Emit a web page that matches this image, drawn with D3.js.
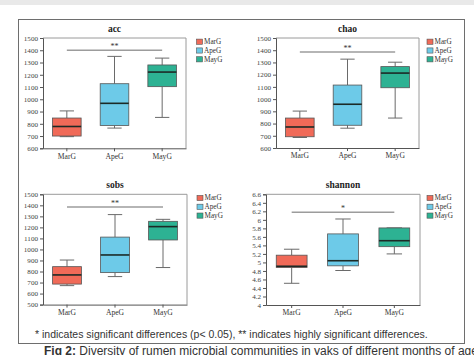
<!DOCTYPE html>
<html><head><meta charset="utf-8">
<script src="https://cdn.jsdelivr.net/npm/d3@7"></script>
<style>html,body{margin:0;padding:0;background:#fff;}svg{display:block;}</style>
</head><body>
<script>
// ---- data ----
const categories = ["MarG", "ApeG", "MayG"];
const colors = ["#F06A58", "#6DCAE8", "#2DB293"];
// [min, q1, median, q3, max]
const accStats = [[695, 700, 778, 847, 905], [765, 786, 967, 1127, 1350], [852, 1103, 1222, 1280, 1336]];
const chaoStats = [[686, 692, 772, 845, 902], [762, 786, 958, 1115, 1327], [845, 1093, 1213, 1266, 1302]];
const sobsStats = [[672, 686, 769, 844, 904], [754, 790, 950, 1112, 1316], [836, 1086, 1207, 1255, 1273]];
const shannonStats = [[4.51, 4.88, 4.91, 5.17, 5.31], [4.81, 4.92, 5.04, 5.67, 6.02], [5.2, 5.37, 5.51, 5.81, 5.81]];
const accTicks = [600, 700, 800, 900, 1000, 1100, 1200, 1300, 1400, 1500];
const chaoTicks = [600, 700, 800, 900, 1000, 1100, 1200, 1300, 1400, 1500];
const sobsTicks = [500, 600, 700, 800, 900, 1000, 1100, 1200, 1300, 1400, 1500];
const shannonTicks = [4, 4.2, 4.4, 4.6, 4.8, 5, 5.2, 5.4, 5.6, 5.8, 6, 6.2, 6.4, 6.6];
const titles = ["acc", "chao", "sobs", "shannon"];
const sigValues = [1400, 1385, 1385, 6.18];
const sigLabels = ["**", "**", "**", "*"];
const footnote = "* indicates significant differences (p< 0.05), ** indicates highly significant differences.";
const captionBold = "Fig 2:";
const captionRest = " Diversity of rumen microbial communities in yaks of different months of age";

// ---- layout ----
const W = 474, H = 355;
const svg = d3.select("body").append("svg").attr("width", W).attr("height", H);
svg.append("rect").attr("x", 0).attr("y", 0).attr("width", W).attr("height", 5).attr("fill", "#e9e9e9");
svg.append("rect").attr("x", 18.5).attr("y", 19.5).attr("width", 446).attr("height", 324)
  .attr("fill", "none").attr("stroke", "#6e6e6e").attr("stroke-width", 1);

const panels = [
  {stats: accStats, ticks: accTicks, x0: 43, x1: 186, y0: 38, y1: 148.3, legendX: 196.5},
  {stats: chaoStats, ticks: chaoTicks, x0: 276, x1: 419, y0: 38, y1: 148, legendX: 427},
  {stats: sobsStats, ticks: sobsTicks, x0: 43, x1: 187, y0: 194.3, y1: 304.6, legendX: 197},
  {stats: shannonStats, ticks: shannonTicks, x0: 266, x1: 420, y0: 194.3, y1: 305, legendX: 427}
];
const serif = "'Liberation Serif', 'DejaVu Serif', serif";
const sans = "'Liberation Sans', Arial, sans-serif";

panels.forEach((p, i) => {
  const g = svg.append("g");
  const ticks = p.ticks;
  const y = d3.scaleLinear().domain([ticks[0], ticks[ticks.length - 1]]).range([p.y1, p.y0]);
  const x = d3.scaleBand().domain(categories).range([p.x0, p.x1]).paddingInner(0.4).paddingOuter(0.2);
  const bw = x.bandwidth();

  // frame (top/right light)
  g.append("line").attr("x1", p.x0).attr("x2", p.x1).attr("y1", p.y0).attr("y2", p.y0).attr("stroke", "#9a9a9a");
  g.append("line").attr("x1", p.x1).attr("x2", p.x1).attr("y1", p.y0).attr("y2", p.y1).attr("stroke", "#9a9a9a");

  // y axis
  const yAxis = d3.axisLeft(y).tickValues(ticks).tickSize(3).tickPadding(2).tickFormat(d3.format("~g"));
  const ya = g.append("g").attr("transform", `translate(${p.x0},0)`).call(yAxis);
  ya.select(".domain").attr("stroke", "#555");
  ya.selectAll(".tick line").attr("stroke", "#555");
  ya.selectAll("text").attr("font-family", serif).attr("font-size", 7.1).attr("fill", "#444");

  // x axis
  const xAxis = d3.axisBottom(x).tickSize(3).tickSizeOuter(0).tickPadding(2);
  const xa = g.append("g").attr("transform", `translate(0,${p.y1})`).call(xAxis);
  xa.select(".domain").attr("stroke", "#555");
  xa.selectAll(".tick line").attr("stroke", "#555");
  xa.selectAll("text").attr("font-family", serif).attr("font-size", 7.6).attr("fill", "#333");

  // title
  g.append("text").attr("x", (p.x0 + p.x1) / 2).attr("y", p.y0 - 6).attr("text-anchor", "middle")
    .attr("font-family", serif).attr("font-weight", "bold").attr("font-size", 9.5).attr("fill", "#222")
    .text(titles[i]);

  // boxes
  p.stats.forEach((s, j) => {
    const cx = x(categories[j]) + bw / 2;
    const bx = g.append("g");
    bx.append("line").attr("x1", cx).attr("x2", cx).attr("y1", y(s[3])).attr("y2", y(s[4])).attr("stroke", "#6a6a6a");
    bx.append("line").attr("x1", cx).attr("x2", cx).attr("y1", y(s[0])).attr("y2", y(s[1])).attr("stroke", "#6a6a6a");
    bx.append("line").attr("x1", cx - bw / 4).attr("x2", cx + bw / 4).attr("y1", y(s[4])).attr("y2", y(s[4])).attr("stroke", "#6a6a6a");
    bx.append("line").attr("x1", cx - bw / 4).attr("x2", cx + bw / 4).attr("y1", y(s[0])).attr("y2", y(s[0])).attr("stroke", "#6a6a6a");
    bx.append("rect").attr("x", cx - bw / 2).attr("y", y(s[3])).attr("width", bw).attr("height", y(s[1]) - y(s[3]))
      .attr("fill", colors[j]).attr("stroke", "#555").attr("stroke-width", 0.8);
    bx.append("line").attr("x1", cx - bw / 2).attr("x2", cx + bw / 2).attr("y1", y(s[2])).attr("y2", y(s[2]))
      .attr("stroke", "#1c2a26").attr("stroke-width", 1.6);
  });

  // significance
  const xs = x(categories[0]) + bw / 2, xe = x(categories[2]) + bw / 2;
  g.append("line").attr("x1", xs).attr("x2", xe).attr("y1", y(sigValues[i])).attr("y2", y(sigValues[i]))
    .attr("stroke", "#9c9c9c").attr("stroke-width", 1.4);
  g.append("text").attr("x", x(categories[1]) + bw / 2).attr("y", y(sigValues[i]) - 1).attr("text-anchor", "middle")
    .attr("font-family", serif).attr("font-size", 8).attr("fill", "#333").text(sigLabels[i]);

  // legend
  categories.forEach((c, j) => {
    const ly = p.y0 + 3.7 + j * 8.8;
    g.append("rect").attr("x", p.legendX).attr("y", ly - 2.6).attr("width", 6).attr("height", 5.2)
      .attr("fill", colors[j]).attr("stroke", "#555").attr("stroke-width", 0.6);
    g.append("text").attr("x", p.legendX + 7.5).attr("y", ly + 2.4).attr("font-family", serif)
      .attr("font-size", 7.2).attr("fill", "#333").text(c);
  });
});

// footnote & caption
svg.append("text").attr("x", 35).attr("y", 337.5).attr("font-family", sans)
  .attr("font-size", 10.5).attr("fill", "#333").text(footnote);
const cap = svg.append("text").attr("x", 44).attr("y", 355).attr("font-family", sans)
  .attr("font-size", 12).attr("fill", "#333");
cap.append("tspan").attr("font-weight", "bold").text(captionBold);
cap.append("tspan").text(captionRest);
</script>
</body></html>
